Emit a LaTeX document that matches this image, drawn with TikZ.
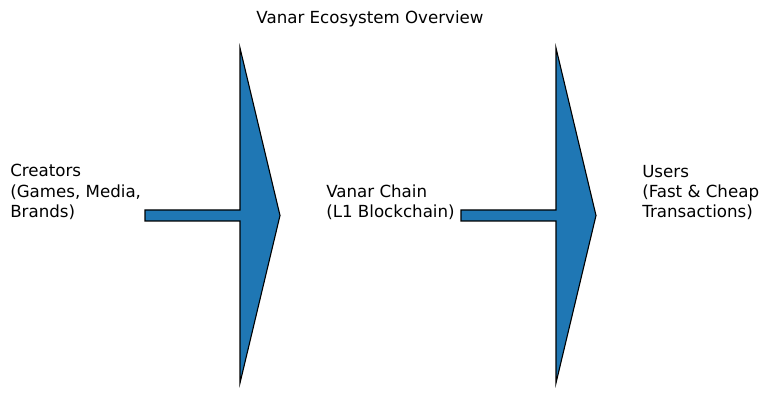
\documentclass[tikz,border=0pt]{standalone}
\usepackage{fontspec}
\setmainfont{DejaVu Sans}
\definecolor{mplblue}{HTML}{1F77B4}
\tikzset{
  bigarrow/.style={fill=mplblue, draw=black, line width=0.8pt, line join=miter},
  lbl/.style={anchor=west, inner sep=0pt, align=left, font=\fontsize{12}{14.7}\selectfont},
  ttl/.style={anchor=base, inner sep=0pt, font=\fontsize{12}{14.7}\selectfont}
}
\begin{document}
\begin{tikzpicture}[x=0.72pt,y=-0.72pt]
\useasboundingbox (0,0) rectangle (767,411);
\node[ttl] (title) at (370,24) {Vanar Ecosystem Overview};
\node[lbl] (creators) at (10,192) {Creators\\(Games, Media,\\Brands)};
\node[lbl] (chain) at (326,202) {Vanar Chain\\(L1 Blockchain)};
\node[lbl] (users) at (642,192.5) {Users\\(Fast \& Cheap\\Transactions)};
\coordinate (a1) at (145,215.5);
\coordinate (a2) at (461,215.5);
\draw[bigarrow] (a1) ++(0,-5.5) -- ++(95,0) -- ++(0,-162) -- ++(40,167.5) -- ++(-40,167.5) -- ++(0,-162) -- ++(-95,0) -- cycle;
\draw[bigarrow] (a2) ++(0,-5.5) -- ++(95,0) -- ++(0,-162) -- ++(40,167.5) -- ++(-40,167.5) -- ++(0,-162) -- ++(-95,0) -- cycle;
\end{tikzpicture}
\end{document}
